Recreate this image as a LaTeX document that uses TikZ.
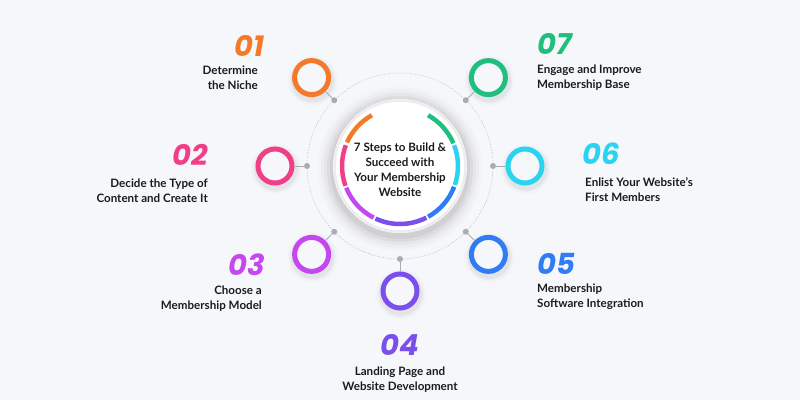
\documentclass[tikz,border=0pt]{standalone}
\usepackage{fontspec}
\setmainfont{Lato}
\newfontfamily\numfont{Poppins}
\definecolor{bg}{HTML}{F6F7FA}
\definecolor{txt}{HTML}{1C1C1E}
\definecolor{cA}{HTML}{F47A2A}
\definecolor{cB}{HTML}{F03F88}
\definecolor{cC}{HTML}{C547EF}
\definecolor{cD}{HTML}{7A4FEE}
\definecolor{cE}{HTML}{2F7CF5}
\definecolor{cF}{HTML}{2CD3F0}
\definecolor{cG}{HTML}{20BF7F}
\definecolor{dotgray}{HTML}{A9ADB3}
\tikzset{
  dotline/.style={draw=dotgray!80, line width=0.6pt, dash pattern=on 1pt off 1.6pt},
  dotnode/.style={circle, fill=dotgray, inner sep=0pt, minimum size=6pt},
  ringnode/.style={circle, draw=#1, line width=5pt, fill=bg, inner sep=0pt, minimum size=34pt},
  conn/.style={draw=dotgray, line width=0.8pt},
  numlabel/.style={text=#1, inner sep=0pt, text depth=0pt, font=\numfont\bfseries\itshape\fontsize{29}{29}\selectfont},
  steplabel/.style={text=txt, inner sep=0pt, font=\bfseries\fontsize{11.6}{15}\selectfont},
  segment/.style={line width=4.5pt}
}
\begin{document}
\begin{tikzpicture}[x=1pt,y=1pt]
\fill[bg] (0,0) rectangle (800,400);
\useasboundingbox (0,0) rectangle (800,400);
\coordinate (c) at (400,234);
% dotted orbit
\draw[dotline] (c) circle[radius=93];
% centre disc with soft shadow
\foreach \r/\o in {82/0.015,79/0.02,76/0.03,73/0.04,70/0.05}
  \fill[black,opacity=\o] ([yshift=-3]c) circle[radius=\r];
\fill[white] (c) circle[radius=67];
\draw[black!7, line width=2.5pt] (c) circle[radius=65.5];
\fill[white] (c) circle[radius=63.5];
% coloured segments
\foreach \a/\b/\col in {23/61/cG,119/156/cA,159/200/cB,202/243/cC,245/297/cD,299/339/cE,341/381/cF}
  \draw[segment,\col] ([shift={(\a:58)}]c) arc[start angle=\a,end angle=\b,radius=58];
% centre title
\node[steplabel, align=center] (title) at (400,230.5) {7 Steps to Build \&\\Succeed with\\Your Membership\\Website};
% ring shadows, dots, rings, connectors
\foreach \i/\ang/\col in {1/135/cA,2/180/cB,3/225/cC,4/270/cD,5/315/cE,6/0/cF,7/45/cG}{
  \foreach \r/\o in {25/0.015,23/0.025,21.5/0.035}
    \fill[black,opacity=\o] ([shift={(\ang:125)},xshift=1,yshift=-3]c) circle[radius=\r];
  \node[dotnode] (d\i) at ([shift={(\ang:93)}]c) {};
  \node[ringnode=\col] (r\i) at ([shift={(\ang:125)}]c) {};
  \draw[conn] (d\i) -- (r\i);
}
% step numbers and labels
\node[numlabel=cA, anchor=base east] (n1) at (265,344) {01};
\node[steplabel, anchor=east, align=right] (l1) at (258,322.5) {Determine\\the Niche};
\node[numlabel=cB, anchor=base east] (n2) at (208,235) {02};
\node[steplabel, anchor=east, align=right] (l2) at (208,209.5) {Decide the Type of\\Content and Create It};
\node[numlabel=cC, anchor=base east] (n3) at (265,125) {03};
\node[steplabel, anchor=east, align=right] (l3) at (262,101) {Choose a\\Membership Model};
\node[numlabel=cD, anchor=base] (n4) at (400,45) {04};
\node[steplabel, align=center] (l4) at (400,20) {Landing Page and\\Website Development};
\node[numlabel=cE, anchor=base west] (n5) at (537,126) {05};
\node[steplabel, anchor=west, align=left] (l5) at (537,103.5) {Membership\\Software Integration};
\node[numlabel=cF, anchor=base west] (n6) at (582,236) {06};
\node[steplabel, anchor=west, align=left] (l6) at (585,210.5) {Enlist Your Website’s\\First Members};
\node[numlabel=cG, anchor=base west] (n7) at (537,345) {07};
\node[steplabel, anchor=west, align=left] (l7) at (537,322.5) {Engage and Improve\\Membership Base};
\end{tikzpicture}
\end{document}
